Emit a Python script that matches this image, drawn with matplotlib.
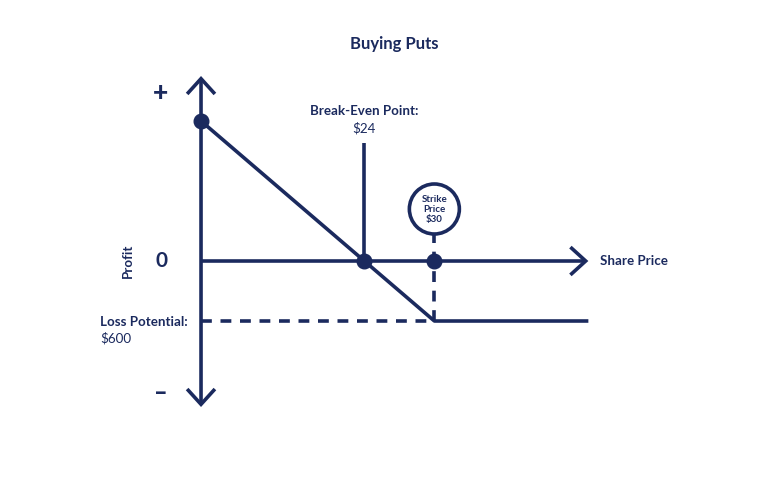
import matplotlib
matplotlib.use("Agg")
import matplotlib.pyplot as plt
from matplotlib.patches import Ellipse

NAVY = "#1b2a5e"
plt.rcParams['font.family'] = ['Lato', 'DejaVu Sans']

# Data (share price in $, profit in $)
axis_price = 10.0          # price where the vertical axis sits
price_max = 43.2           # end of share price axis
profit_top = 1850          # top of profit axis
profit_bottom = -1460      # bottom of profit axis
strike = 30
premium = 600
shares = 100
breakeven = 24
breakeven_line_top = 1180
payoff_prices = [axis_price, breakeven, strike, price_max]
payoff_profits = [(strike - p) * shares - premium if p < strike else -premium for p in payoff_prices]

fig = plt.figure(figsize=(7.8, 4.84), dpi=100)
ax = fig.add_axes([0, 0, 1, 1])
x0 = -7.23
pxx = 11.667
ax.set_xlim(x0, x0 + 780 / pxx)
ax.set_ylim(-2230, 2610)
ax.axis('off')

lw = 2.6
arrow = dict(arrowstyle="->,head_length=0.55,head_width=0.5", color=NAVY, lw=lw,
             mutation_scale=20, shrinkA=0, shrinkB=0, joinstyle='miter', capstyle='butt')
ax.annotate("", xy=(axis_price, profit_top), xytext=(axis_price, 0), arrowprops=arrow)
ax.annotate("", xy=(axis_price, profit_bottom), xytext=(axis_price, 0), arrowprops=arrow)
ax.annotate("", xy=(price_max, 0), xytext=(axis_price, 0), arrowprops=arrow)

# payoff line
ax.plot(payoff_prices, payoff_profits, color=NAVY, lw=lw, solid_capstyle='butt', zorder=3)

# break-even vertical line
ax.plot([breakeven, breakeven], [0, breakeven_line_top], color=NAVY, lw=lw, solid_capstyle='butt')

# dashed loss line and strike line
ax.plot([axis_price, strike], [-premium, -premium], color=NAVY, lw=lw, ls=(0, (3.0, 2.4)))
ax.plot([strike, strike], [-premium, 270], color=NAVY, lw=lw, ls=(0, (3.0, 2.4)))

# points
ax.plot([payoff_prices[0], breakeven, strike], [payoff_profits[0], 0, 0], 'o',
        color=NAVY, ms=10.5, zorder=5)

# strike circle
circ = Ellipse((strike, 520), width=50 / pxx, height=500, facecolor='white',
               edgecolor=NAVY, lw=lw, zorder=6)
ax.add_patch(circ)
ax.text(strike, 515, "Strike\nPrice\n$30", ha='center', va='center', fontsize=7,
        fontweight='bold', color=NAVY, linespacing=1.2, zorder=7)

# labels
ax.text(breakeven, 1500, "Break-Even Point:", ha='center', va='center', fontsize=9.6,
        fontweight='bold', color=NAVY)
ax.text(breakeven, 1330, "$24", ha='center', va='center', fontsize=9.6, color=NAVY)
ax.text(x0 + 100 / pxx, -610, "Loss Potential:", ha='left', va='center', fontsize=9.6,
        fontweight='bold', color=NAVY)
ax.text(x0 + 100 / pxx, -770, "$600", ha='left', va='center', fontsize=9.6, color=NAVY)
ax.text(price_max + 1.0, 0, "Share Price", ha='left', va='center', fontsize=9.6,
        fontweight='bold', color=NAVY)
ax.text(x0 + 128 / pxx, 0, "Profit", ha='center', va='center', rotation=90,
        fontsize=9.6, fontweight='bold', color=NAVY)
ax.text(x0 + 161 / pxx, 1680, "+", ha='center', va='center', fontsize=19,
        fontweight='black', color=NAVY)
ax.text(x0 + 161 / pxx, 0, "0", ha='center', va='center', fontsize=15,
        fontweight='bold', color=NAVY)
ax.text(x0 + 161 / pxx, -1320, "\u2013", ha='center', va='center', fontsize=17,
        fontweight='black', color=NAVY)
ax.text(x0 + 394 / pxx, 2170, "Buying Puts", ha='center', va='center', fontsize=12,
        fontweight='bold', color=NAVY)

fig.savefig("out.png", dpi=100)
